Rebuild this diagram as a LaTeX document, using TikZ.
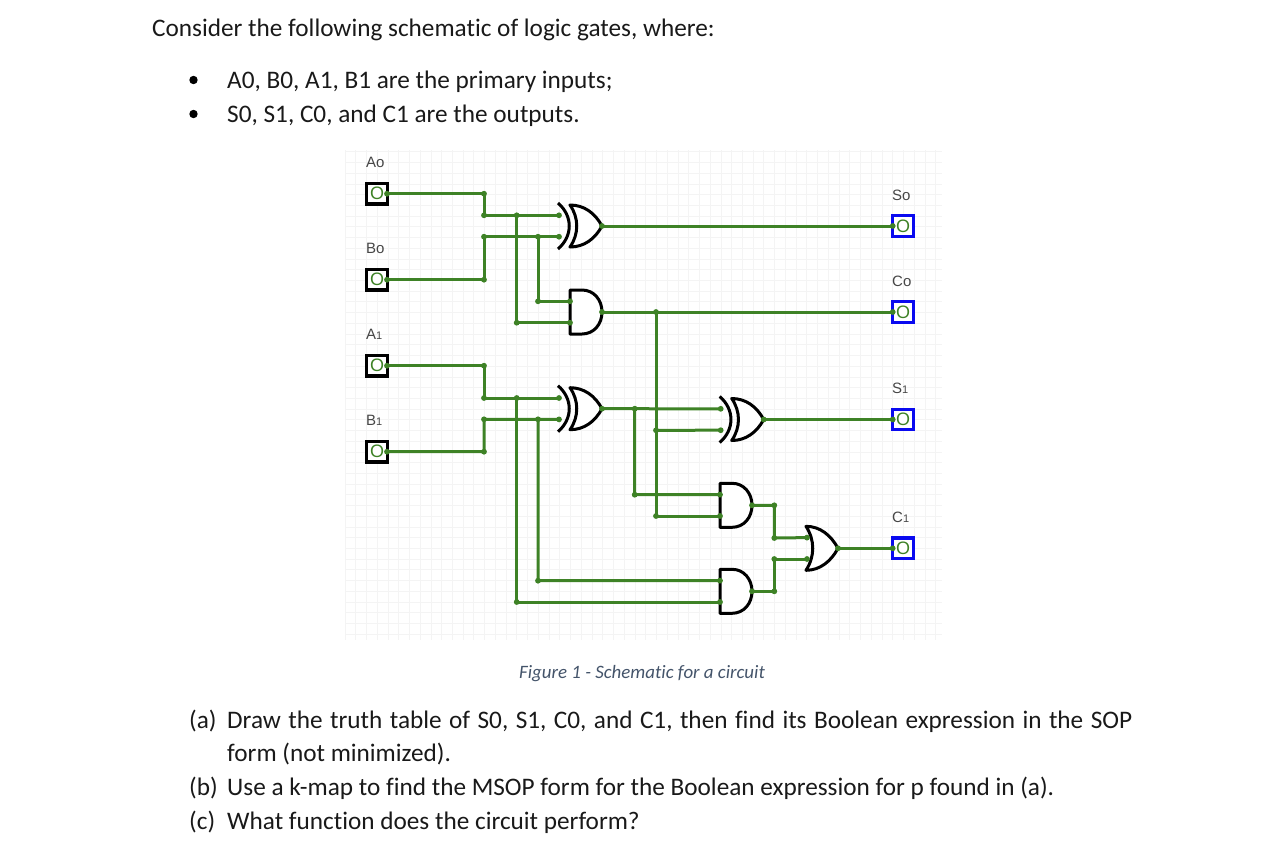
\documentclass[tikz,border=0pt]{standalone}
\usepackage{fontspec}
\setmainfont{Carlito}[Ligatures=CommonOff]
\setsansfont{Liberation Sans}
\usetikzlibrary{positioning}
\definecolor{wiregreen}{RGB}{62, 130, 38}
\definecolor{gridgray}{RGB}{244, 244, 244}
\definecolor{outblue}{RGB}{10, 10, 240}
\definecolor{captioncol}{RGB}{68, 84, 106}
\definecolor{labelgray}{RGB}{70, 70, 70}
\definecolor{bodytext}{RGB}{25, 25, 25}

\newcommand{\sdig}[1]{{\fontsize{11}{11}\selectfont #1}}

\tikzset{
    bodyline/.style={font=\fontsize{25.25}{25.25}\selectfont, text=bodytext, anchor=base west, inner sep=0pt},
    siglabel/.style={font=\sffamily\fontsize{15}{15}\selectfont, text=labelgray, anchor=base west, inner sep=0pt},
    inbox/.style={draw=black, line width=3.2pt, fill=white, minimum size=20.5pt, inner sep=0pt, text=wiregreen, font=\sffamily\fontsize{18}{18}\selectfont},
    outbox/.style={inbox, draw=outblue},
    wire/.style={draw=wiregreen, line width=3pt},
    gateline/.style={draw=black, line width=3pt, fill=white, line join=round},
    andgate/.pic={
        \path[gateline] (0, -22) -- (12, -22) .. controls (24, -22) and (32, -12) .. (32, 0)
            .. controls (32, 12) and (24, 22) .. (12, 22) -- (0, 22) -- cycle;
        \coordinate (-a) at (0, -10.7);
        \coordinate (-b) at (0, 10.7);
        \coordinate (-y) at (32, 0);
    },
    orgate/.pic={
        \path[gateline] (0, -22) .. controls (14, -22) and (25, -13) .. (32, 0)
            .. controls (25, 13) and (14, 22) .. (0, 22)
            .. controls (9, 8) and (9, -8) .. (0, -22) -- cycle;
        \coordinate (-a) at (1, -10.7);
        \coordinate (-b) at (1, 10.7);
        \coordinate (-y) at (32, 0);
    },
    xorgate/.pic={
        \path[gateline] (0, -21) .. controls (14, -21) and (25, -13) .. (32, 0)
            .. controls (25, 13) and (14, 21) .. (0, 21)
            .. controls (9, 8) and (9, -8) .. (0, -21) -- cycle;
        \draw[black, line width=3pt] (-12, -23) .. controls (3, -10) and (3, 10) .. (-12, 23);
        \coordinate (-a) at (-11, -10.7);
        \coordinate (-b) at (-11, 10.7);
        \coordinate (-y) at (32, 0);
    },
}

\begin{document}
\begin{tikzpicture}[x=1pt, y=-1pt]
    \useasboundingbox (0, 0) rectangle (1284, 863);

    % background grid
    \foreach \k in {0,...,55} {
        \draw[gridgray, line width=0.8pt] ({345 + 10.74 * \k}, 150) -- ({345 + 10.74 * \k}, 640);
    }
    \foreach \k in {0,...,45} {
        \draw[gridgray, line width=0.8pt] (345, {151.8 + 10.72 * \k}) -- (942, {151.8 + 10.72 * \k});
    }

    % text above
    \node[bodyline] (intro) at (152, 36) {Consider the following schematic of logic gates, where:};
    \node[bodyline] (inline) at (227, 88) {A0, B0, A1, B1 are the primary inputs;};
    \node[bodyline] (outline) at (227, 122) {S0, S1, C0, and C1 are the outputs.};
    \fill[black] (193.5, 80) circle (4.2pt) coordinate (dota);
    \fill[black] (193.5, 114) circle (4.2pt) coordinate (dotb);

    % text below
    \node[font=\itshape\fontsize{18.9}{18.9}\selectfont, text=captioncol, anchor=base west, inner sep=0pt] (caption) at (519, 678) {Figure 1 - Schematic for a circuit};
    \node[bodyline] (parta) at (189, 728) {(a)};
    \node[bodyline] (texta) at (227, 728) {\spaceskip=7.45pt Draw the truth table of S0, S1, C0, and C1, then find its Boolean expression in the SOP};
    \node[bodyline] (textaa) at (227, 761) {form (not minimized).};
    \node[bodyline] (partb) at (189, 795) {(b)};
    \node[bodyline] (textb) at (227, 795) {Use a k-map to find the MSOP form for the Boolean expression for p found in (a).};
    \node[bodyline] (partc) at (189, 829) {(c)};
    \node[bodyline] (textc) at (227, 829) {What function does the circuit perform?};

    % inputs and outputs
    \node[inbox] (A0) at (377, 193.7) {O};
    \node[inbox] (B0) at (377, 279.7) {O};
    \node[inbox] (A1) at (377, 365.7) {O};
    \node[inbox] (B1) at (377, 451.7) {O};
    \node[outbox] (S0) at (903, 226) {O};
    \node[outbox] (C0) at (903, 312) {O};
    \node[outbox] (S1) at (903, 419.5) {O};
    \node[outbox] (C1) at (903, 548.3) {O};

    \node[siglabel] (lA0) at (366, 167) {Ao};
    \node[siglabel] (lB0) at (366, 253) {Bo};
    \node[siglabel] (lA1) at (366, 339) {A\sdig{1}};
    \node[siglabel] (lB1) at (366, 425) {B\sdig{1}};
    \node[siglabel] (lS0) at (892, 200) {So};
    \node[siglabel] (lC0) at (892, 286) {Co};
    \node[siglabel] (lS1) at (892, 393) {S\sdig{1}};
    \node[siglabel] (lC1) at (892, 522) {C\sdig{1}};

    % gates
    \pic (xa) at (570, 226) {xorgate};
    \pic (ga) at (570, 312) {andgate};
    \pic (xb) at (570, 408.7) {xorgate};
    \pic (xc) at (731.7, 419.5) {xorgate};
    \pic (gb) at (720, 505.3) {andgate};
    \pic (gc) at (720, 591.3) {andgate};
    \pic (oa) at (806, 548.3) {orgate};

    % pins and junctions
    \coordinate (pA0) at (387, 193.7);
    \coordinate (pB0) at (387, 279.7);
    \coordinate (pA1) at (387, 365.7);
    \coordinate (pB1) at (387, 451.7);
    \coordinate (pS0) at (892.7, 226);
    \coordinate (pC0) at (892.7, 312);
    \coordinate (pS1) at (892.7, 419.5);
    \coordinate (pC1) at (892.7, 548.3);
    \coordinate (kA0) at (484, 193.7);
    \coordinate (kB0) at (484, 279.7);
    \coordinate (kA1) at (484, 365.7);
    \coordinate (kB1) at (484, 451.7);
    \coordinate (ja0) at (484, 215.3);
    \coordinate (jb0) at (484, 236.7);
    \coordinate (ja1) at (484, 398);
    \coordinate (jb1) at (484, 419.3);
    \coordinate (ta0) at (516.7, 215.3);
    \coordinate (tb0) at (538, 236.7);
    \coordinate (ta1) at (516.7, 398);
    \coordinate (tb1) at (538, 419.3);
    \coordinate (ea0) at (516.7, 322.7);
    \coordinate (eb0) at (538, 301.3);
    \coordinate (ea1) at (516.7, 602);
    \coordinate (eb1) at (538, 580.7);
    \coordinate (tc0) at (656, 312);
    \coordinate (tx) at (634.7, 408.7);
    \coordinate (ex) at (634.7, 494.7);
    \coordinate (mc) at (656, 430.3);
    \coordinate (ec) at (656, 516);
    \coordinate (ub) at (774.3, 505.3);
    \coordinate (uc) at (774.3, 591.3);
    \coordinate (vb) at (774.3, 538);
    \coordinate (vc) at (774.3, 559);

    % wires
    \path[wire] (pA0) -- (kA0) -- (ja0) -- (xa-a);
    \path[wire] (pB0) -- (kB0) -- (jb0) -- (xa-b);
    \path[wire] (pA1) -- (kA1) -- (ja1) -- (xb-a);
    \path[wire] (pB1) -- (kB1) -- (jb1) -- (xb-b);
    \path[wire] (ta0) -- (ea0) -- (ga-b);
    \path[wire] (tb0) -- (eb0) -- (ga-a);
    \path[wire] (ta1) -- (ea1) -- (gc-b);
    \path[wire] (tb1) -- (eb1) -- (gc-a);
    \path[wire] (xa-y) -- (pS0);
    \path[wire] (ga-y) -- (pC0);
    \path[wire] (xb-y) -- (xc-a);
    \path[wire] (tx) -- (ex) -- (gb-a);
    \path[wire] (tc0) -- (ec) -- (gb-b);
    \path[wire] (mc) -- (xc-b);
    \path[wire] (xc-y) -- (pS1);
    \path[wire] (gb-y) -- (ub) -- (vb) -- (oa-a);
    \path[wire] (gc-y) -- (uc) -- (vc) -- (oa-b);
    \path[wire] (oa-y) -- (pC1);

    % dots
    \foreach \p in {pA0,pB0,pA1,pB1,pS0,pC0,pS1,pC1,kA0,kB0,kA1,kB1,ja0,jb0,ja1,jb1,ta0,tb0,ta1,tb1,ea0,eb0,ea1,eb1,tc0,tx,ex,mc,ec,ub,uc,vb,vc,xa-a,xa-b,xa-y,xb-a,xb-b,xb-y,xc-a,xc-b,xc-y,ga-a,ga-b,ga-y,gb-a,gb-b,gb-y,gc-a,gc-b,gc-y,oa-a,oa-b,oa-y} {
        \fill[wiregreen] (\p) circle (2.9pt);
    }
\end{tikzpicture}
\end{document}
